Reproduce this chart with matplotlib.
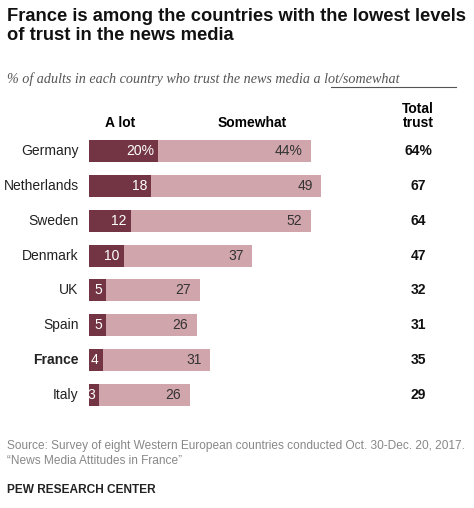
import matplotlib.pyplot as plt
import numpy as np

countries = ["Germany", "Netherlands", "Sweden", "Denmark", "UK", "Spain", "France", "Italy"]
a_lot = [20, 18, 12, 10, 5, 5, 4, 3]
somewhat = [44, 49, 52, 37, 27, 26, 31, 26]
total = [64, 67, 64, 47, 32, 31, 35, 29]

W, H = 474, 508
fig = plt.figure(figsize=(W / 100, H / 100), dpi=100)
plt.rcParams['font.family'] = ['Liberation Sans', 'DejaVu Sans']

dark = "#733543"
light = "#d0a5ab"

# axes: x 89px..436px (0..100), rows centred every 34.8px starting 151px
top_px, bot_px = 133.6, 412.4
ax = fig.add_axes([89 / W, 1 - bot_px / H, 347 / W, (bot_px - top_px) / H])
y = np.arange(len(countries))
ax.barh(y, a_lot, height=0.63, color=dark)
ax.barh(y, somewhat, left=a_lot, height=0.63, color=light)
ax.set_xlim(0, 100)
ax.set_ylim(7.5, -0.5)
ax.axis("off")

for i, c in enumerate(countries):
    pct = "%" if i == 0 else ""
    ax.text(-3, i, c, ha="right", va="center", fontsize=10,
            fontweight="bold" if c == "France" else "normal", color="#222222")
    ax.text(a_lot[i] - 1.2, i, f"{a_lot[i]}{pct}", ha="right", va="center",
            fontsize=10, color="white")
    ax.text(a_lot[i] + somewhat[i] - 2.5, i, f"{somewhat[i]}{pct}", ha="right", va="center",
            fontsize=10, color="#333333")
    ax.text(95, i, f"{total[i]}{pct}", ha="center", va="center", fontsize=10,
            fontweight="bold", color="#111111")

fig.text(120 / W, 1 - 123 / H, "A lot", ha="center", va="center", fontsize=10, fontweight="bold")
fig.text(252 / W, 1 - 123 / H, "Somewhat", ha="center", va="center", fontsize=10, fontweight="bold")
fig.text(418 / W, 1 - 116 / H, "Total\ntrust", ha="center", va="center", fontsize=10,
         fontweight="bold", linespacing=1.0)

fig.text(7 / W, 1 - 8 / H, "France is among the countries with the lowest levels\nof trust in the news media",
         ha="left", va="top", fontsize=13.2, fontweight="bold", color="#111111", linespacing=1.15)
fig.text(7 / W, 1 - 79 / H, "% of adults in each country who trust the news media a lot/somewhat",
         ha="left", va="center", fontsize=10.2, style="italic", color="#555555",
         family=["Liberation Serif", "DejaVu Serif"])
fig.add_artist(plt.Line2D([331 / W, 456 / W], [1 - 87 / H, 1 - 87 / H], color="#555555", lw=0.8))

fig.text(7 / W, 1 - 440 / H, "Source: Survey of eight Western European countries conducted Oct. 30-Dec. 20, 2017.\n\u201cNews Media Attitudes in France\u201d",
         ha="left", va="top", fontsize=8.6, color="#888888", linespacing=1.3)
fig.text(7 / W, 1 - 484 / H, "PEW RESEARCH CENTER", ha="left", va="top", fontsize=8.6,
         fontweight="bold", color="#222222")

fig.savefig("out.png", dpi=100)
